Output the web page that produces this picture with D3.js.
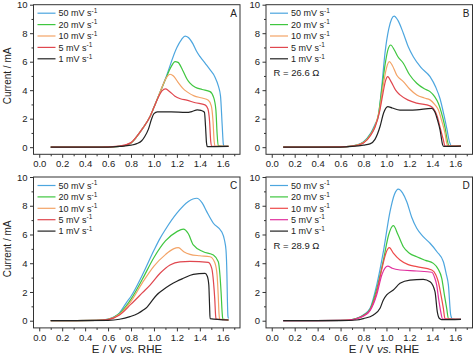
<!DOCTYPE html>
<html><head><meta charset="utf-8">
<script src="https://cdn.jsdelivr.net/npm/d3@7"></script>
<style>body{margin:0;background:#fff}svg{display:block;font-family:"Liberation Sans",Arial,sans-serif}</style>
</head><body><svg id="c" width="474" height="356"></svg>
<script>
const xTicks = [0,0.2,0.4,0.6,0.8,1.0,1.2,1.4,1.6];
const xMinor = [0.1,0.3,0.5,0.7,0.9,1.1,1.3,1.5,1.7];
const yTicks = [0,2,4,6,8,10];
const yMinor = [1,3,5,7,9];
const rates = ["50","20","10","5","1"];
const colorsABC = ["#4da6df","#3fc63f","#f3a366","#e0474f","#222222"];
const colorsD = ["#4da6df","#3fc63f","#ee4a4a","#e0309e","#222222"];
const panelLabels = ["A","B","C","D"];
const rLabels = [null,"R = 26.6 Ω",null,"R = 28.9 Ω"];

// Panel A
const A50 = [[0.1,0],[0.5,0],[0.6,0.02],[0.7,0.06],[0.8,0.3],[0.85,0.74],[0.9,1.3],[0.966,2.15],[1.0,2.8],[1.038,3.55],[1.1,4.8],[1.2,7.0],[1.24,7.55],[1.271,7.8],[1.3,7.7],[1.34,7.25],[1.37,6.75],[1.402,6.35],[1.45,5.85],[1.49,5.42],[1.53,4.95],[1.561,4.3],[1.58,3.6],[1.595,1.5],[1.605,0.2],[1.615,0.05],[1.65,0.05]];
const A20 = [[0.1,0],[0.5,0],[0.6,0.02],[0.7,0.06],[0.8,0.3],[0.85,0.74],[0.9,1.3],[0.966,2.15],[1.0,2.8],[1.038,3.55],[1.1,4.75],[1.15,5.65],[1.184,6.0],[1.21,5.95],[1.25,5.4],[1.29,4.75],[1.314,4.49],[1.36,4.2],[1.42,4.05],[1.489,3.9],[1.52,3.5],[1.54,2.6],[1.55,1.0],[1.56,0.1],[1.65,0.05]];
const A10 = [[0.1,0],[0.5,0],[0.6,0.02],[0.7,0.06],[0.8,0.3],[0.85,0.74],[0.9,1.3],[0.966,2.15],[1.0,2.8],[1.038,3.55],[1.08,4.4],[1.11,4.9],[1.14,5.12],[1.17,5.0],[1.21,4.55],[1.25,4.15],[1.286,3.9],[1.35,3.6],[1.42,3.45],[1.474,3.3],[1.5,2.9],[1.515,1.8],[1.525,0.4],[1.535,0.05],[1.65,0.05]];
const A5 = [[0.1,0],[0.5,0],[0.6,0.02],[0.7,0.07],[0.8,0.32],[0.85,0.76],[0.9,1.3],[0.966,2.15],[1.0,2.8],[1.038,3.5],[1.07,3.95],[1.1,4.09],[1.13,3.95],[1.18,3.6],[1.23,3.4],[1.286,3.3],[1.36,3.12],[1.445,2.97],[1.47,2.7],[1.485,1.8],[1.495,0.4],[1.505,0.05],[1.65,0.05]];
const A1 = [[0.1,0],[0.6,0.01],[0.7,0.05],[0.8,0.14],[0.85,0.25],[0.893,0.45],[0.92,0.75],[0.951,1.25],[0.98,2.0],[1.0,2.35],[1.03,2.48],[1.15,2.48],[1.28,2.44],[1.33,2.5],[1.378,2.62],[1.41,2.58],[1.44,2.45],[1.45,1.4],[1.458,0.3],[1.465,0.04],[1.65,0.05]];
// Panel B
const B50 = [[0.1,0],[0.6,0.02],[0.7,0.08],[0.8,0.38],[0.86,0.95],[0.9,1.6],[0.929,2.15],[0.959,4.25],[0.987,6.59],[1.02,8.3],[1.045,9.0],[1.067,9.2],[1.1,8.9],[1.147,8.0],[1.19,7.05],[1.234,6.35],[1.3,5.6],[1.38,4.95],[1.43,4.2],[1.467,3.4],[1.5,2.3],[1.525,1.35],[1.55,0.35],[1.569,0.08],[1.65,0.08]];
const B20 = [[0.1,0],[0.6,0.02],[0.7,0.07],[0.8,0.35],[0.86,0.9],[0.9,1.5],[0.93,2.3],[0.96,4.1],[0.99,5.9],[1.015,6.9],[1.037,7.17],[1.07,6.8],[1.1,6.35],[1.147,5.89],[1.2,5.1],[1.264,4.49],[1.33,4.1],[1.38,3.9],[1.42,3.55],[1.452,3.09],[1.49,2.1],[1.51,1.4],[1.53,0.5],[1.545,0.08],[1.65,0.08]];
const B10 = [[0.1,0],[0.6,0.02],[0.7,0.07],[0.8,0.32],[0.86,0.85],[0.9,1.45],[0.94,2.6],[0.975,4.5],[1.0,5.55],[1.025,6.0],[1.05,5.75],[1.09,5.05],[1.147,4.6],[1.2,4.1],[1.264,3.67],[1.33,3.45],[1.38,3.32],[1.42,3.0],[1.452,2.62],[1.48,1.9],[1.51,0.98],[1.525,0.3],[1.535,0.08],[1.65,0.08]];
const B5 = [[0.1,0],[0.6,0.02],[0.7,0.07],[0.8,0.3],[0.86,0.8],[0.9,1.4],[0.94,2.5],[0.97,3.8],[0.99,4.6],[1.011,4.95],[1.04,4.6],[1.08,4.0],[1.118,3.67],[1.19,3.3],[1.264,3.09],[1.38,2.9],[1.41,2.7],[1.443,2.15],[1.47,1.3],[1.496,0.51],[1.51,0.08],[1.65,0.08]];
const B1 = [[0.1,0],[0.6,0.01],[0.7,0.05],[0.8,0.14],[0.856,0.23],[0.9,0.55],[0.944,1.45],[0.975,2.4],[1.011,2.85],[1.05,2.75],[1.118,2.6],[1.2,2.6],[1.264,2.62],[1.395,2.73],[1.42,2.5],[1.445,1.9],[1.467,1.21],[1.49,0.16],[1.5,0.05],[1.65,0.08]];
// Panel C
const C50 = [[0.1,0],[0.5,0.02],[0.6,0.12],[0.7,0.55],[0.763,1.3],[0.8,1.7],[0.9,3.2],[1.0,4.9],[1.053,5.73],[1.1,6.35],[1.198,7.47],[1.3,8.3],[1.373,8.52],[1.42,8.2],[1.46,7.59],[1.518,6.78],[1.59,6.19],[1.615,5.6],[1.628,4.9],[1.636,3.2],[1.64,1.5],[1.645,0.3],[1.65,0.15]];
const C20 = [[0.1,0],[0.5,0.02],[0.6,0.1],[0.7,0.5],[0.8,1.5],[0.9,2.9],[1.0,4.4],[1.1,5.55],[1.2,6.2],[1.256,6.38],[1.3,6.05],[1.343,5.27],[1.43,4.8],[1.518,4.57],[1.561,4.1],[1.575,3.2],[1.585,2.0],[1.595,0.5],[1.6,0.12],[1.65,0.05]];
const C10 = [[0.1,0],[0.5,0.02],[0.6,0.09],[0.7,0.45],[0.8,1.35],[0.9,2.65],[1.0,3.8],[1.1,4.6],[1.17,5.0],[1.212,5.08],[1.26,4.8],[1.314,4.62],[1.4,4.52],[1.489,4.45],[1.53,4.05],[1.55,3.2],[1.56,1.8],[1.567,0.5],[1.572,0.12],[1.65,0.05]];
const C5 = [[0.1,0],[0.5,0.02],[0.6,0.08],[0.7,0.4],[0.8,1.15],[0.9,1.95],[0.966,2.48],[1.053,3.3],[1.14,3.88],[1.227,4.1],[1.314,4.13],[1.474,4.06],[1.504,3.64],[1.52,2.6],[1.53,1.5],[1.537,0.4],[1.541,0.12],[1.65,0.05]];
const C1 = [[0.1,0],[0.6,0.03],[0.7,0.1],[0.791,0.28],[0.86,0.5],[0.907,0.74],[0.94,0.95],[0.966,1.21],[1.024,1.79],[1.08,2.15],[1.14,2.48],[1.2,2.75],[1.256,2.95],[1.343,3.23],[1.445,3.3],[1.465,3.1],[1.478,2.5],[1.485,1.0],[1.489,0.15],[1.65,0.05]];
// Panel D
const D50 = [[0.1,0],[0.6,0.02],[0.7,0.08],[0.741,0.17],[0.8,0.42],[0.857,0.86],[0.915,2.48],[0.973,4.8],[1.031,7.59],[1.07,8.8],[1.103,9.16],[1.14,8.9],[1.177,8.28],[1.22,7.2],[1.264,6.43],[1.32,5.85],[1.38,5.39],[1.44,4.8],[1.496,4.1],[1.52,3.3],[1.54,2.48],[1.56,0.4],[1.575,0.12],[1.65,0.1]];
const D20 = [[0.1,0],[0.6,0.02],[0.7,0.07],[0.741,0.16],[0.8,0.38],[0.857,0.8],[0.915,2.2],[0.973,4.2],[1.02,6.0],[1.06,6.61],[1.1,6.0],[1.147,5.15],[1.2,4.7],[1.264,4.45],[1.34,4.2],[1.409,3.99],[1.45,3.6],[1.482,2.95],[1.505,1.8],[1.525,0.86],[1.54,0.15],[1.65,0.1]];
const D10 = [[0.1,0],[0.6,0.02],[0.7,0.07],[0.741,0.15],[0.8,0.35],[0.857,0.75],[0.915,2.0],[0.96,3.6],[0.995,4.7],[1.025,5.08],[1.06,4.7],[1.118,4.22],[1.19,3.9],[1.264,3.76],[1.395,3.53],[1.43,3.2],[1.452,2.71],[1.475,1.8],[1.496,0.86],[1.51,0.15],[1.65,0.1]];
const D5 = [[0.1,0],[0.6,0.02],[0.7,0.06],[0.741,0.14],[0.8,0.33],[0.857,0.7],[0.915,1.8],[0.96,3.2],[0.99,3.7],[1.011,3.8],[1.05,3.65],[1.118,3.53],[1.264,3.46],[1.395,3.37],[1.42,3.0],[1.438,2.48],[1.455,1.5],[1.473,0.63],[1.49,0.12],[1.65,0.1]];
const D1 = [[0.1,0],[0.6,0.01],[0.74,0.05],[0.8,0.15],[0.886,0.4],[0.944,0.86],[0.973,1.44],[1.002,1.79],[1.06,2.14],[1.118,2.6],[1.205,2.83],[1.321,2.88],[1.38,2.71],[1.423,2.02],[1.443,0.63],[1.46,0.17],[1.48,0.08],[1.65,0.1]];

const panelData = [[A50,A20,A10,A5,A1],[B50,B20,B10,B5,B1],[C50,C20,C10,C5,C1],[D50,D20,D10,D5,D1]];

const svg = d3.select("#c");
const frames = [
  {l:33.5,r:240,t:4.7,b:154.3},
  {l:266,r:472.5,t:4.7,b:154.3},
  {l:33.5,r:240,t:177,b:327.9},
  {l:266,r:472.5,t:177,b:327.9}
];
const axisColor = "#333";

frames.forEach((f,pi)=>{
  const x = d3.scaleLinear().domain([-0.05,1.75]).range([f.l,f.r]);
  const y = d3.scaleLinear().domain([-0.5,10]).range([f.b,f.t]);
  const g = svg.append("g");
  const line = d3.line().x(d=>x(d[0])).y(d=>y(d[1])).curve(d3.curveMonotoneX);
  const cols = pi===3 ? colorsD : colorsABC;
  panelData[pi].forEach((s,i)=>{
    g.append("path").attr("d",line(s)).attr("fill","none").attr("stroke",cols[i]).attr("stroke-width",1.2);
  });
  g.append("rect").attr("x",f.l).attr("y",f.t).attr("width",f.r-f.l).attr("height",f.b-f.t)
    .attr("fill","none").attr("stroke",axisColor).attr("stroke-width",1);
  const ax = g.append("g").attr("transform",`translate(0,${f.b})`)
    .call(d3.axisBottom(x).tickValues(xTicks).tickFormat(d3.format(".1f")).tickSize(3.5).tickPadding(2.5));
  const axm = g.append("g").attr("transform",`translate(0,${f.b})`)
    .call(d3.axisBottom(x).tickValues(xMinor).tickFormat("").tickSize(2));
  const ay = g.append("g").attr("transform",`translate(${f.l},0)`)
    .call(d3.axisLeft(y).tickValues(yTicks).tickFormat(d3.format("d")).tickSize(3.5).tickPadding(2.5));
  const aym = g.append("g").attr("transform",`translate(${f.l},0)`)
    .call(d3.axisLeft(y).tickValues(yMinor).tickFormat("").tickSize(2));
  [ax,axm,ay,aym].forEach(a=>{
    a.select(".domain").remove();
    a.selectAll("line").attr("stroke",axisColor);
    a.selectAll("text").attr("fill","#222").style("font-size","9.5px").style("font-family","'Liberation Sans',Arial,sans-serif");
  });
  rates.forEach((r,i)=>{
    const ly = f.t + 8.5 + i*11.4;
    g.append("line").attr("x1",f.l+4).attr("x2",f.l+22).attr("y1",ly).attr("y2",ly)
      .attr("stroke",cols[i]).attr("stroke-width",1.2);
    const t = g.append("text").attr("x",f.l+25).attr("y",ly+3.2).attr("fill","#222")
      .style("font-size","9px");
    t.append("tspan").text(r+" mV s");
    t.append("tspan").attr("dy",-3.5).style("font-size","6.5px").text("-1");
  });
  if(rLabels[pi]){
    g.append("text").attr("x",f.l+7.5).attr("y",f.t+71.5).attr("fill","#222").style("font-size","9.5px").text(rLabels[pi]);
  }
  g.append("text").attr("x",f.r-6.5).attr("y",f.t+12).attr("text-anchor","middle").attr("fill","#222")
    .style("font-size","10px").text(panelLabels[pi]);
  if(pi%2===0){
    g.append("text").attr("transform",`translate(${10.5},${(f.t+y(0))/2}) rotate(-90)`)
      .attr("text-anchor","middle").attr("fill","#222").style("font-size","10px").text("Current / mA");
  }
  if(pi>=2){
    const cx = pi===2 ? 127 : 384;
    const t = g.append("text").attr("x",cx).attr("y",353).attr("text-anchor","middle").attr("fill","#222").style("font-size","11.5px");
    t.append("tspan").text("E / V ");
    t.append("tspan").style("font-style","italic").text("vs.");
    t.append("tspan").text(" RHE");
  }
});
</script></body></html>
